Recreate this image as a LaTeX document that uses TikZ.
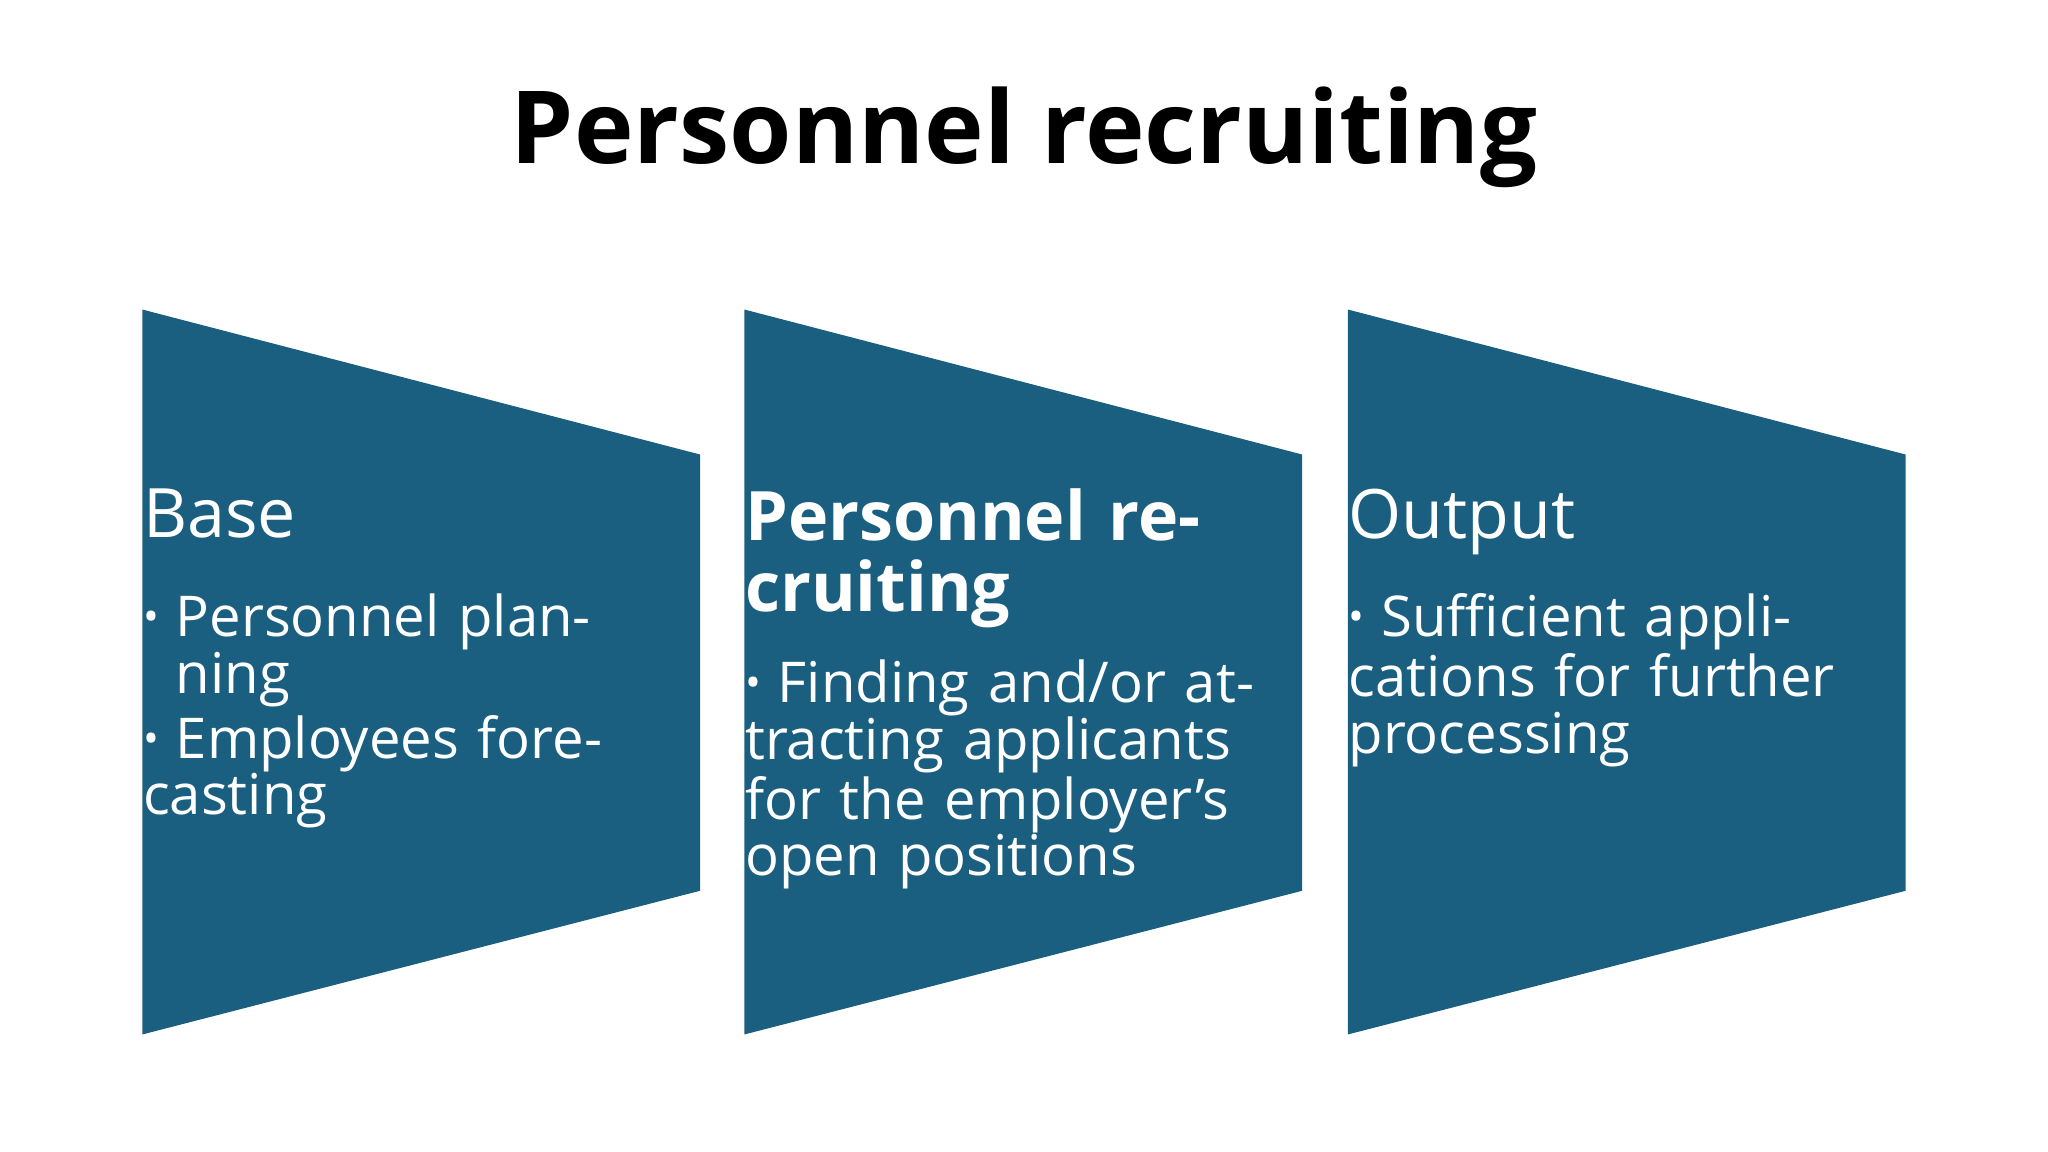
\documentclass[tikz,border=0pt]{standalone}
\usepackage{fontspec}
\setmainfont{Open Sans}
\usetikzlibrary{positioning}
\definecolor{stepblue}{HTML}{1A5F80}
\newcommand{\bul}[1]{\par\hangindent=9.3pt\hangafter=1\noindent\makebox[9.3pt][l]{\raisebox{1.5pt}{\fontsize{12}{12}\selectfont•}}#1}
\begin{document}
\begin{tikzpicture}[x=0.013061cm,y=-0.013061cm]

% Styles
\tikzset{
  stage/.style={fill=stepblue},
  head/.style={anchor=north west, inner sep=0pt, text=white, text width=152pt, align=left,
    font=\fontsize{19.4}{20}\selectfont},
  items/.style={anchor=north west, inner sep=0pt, text=white, text width=152pt, align=left,
    font=\fontsize{16}{16}\selectfont}
}

\useasboundingbox (0,0) rectangle (1568,882);

% Titel
\node (title) at (784,105) {\fontsize{28.7}{30}\selectfont\bfseries Personnel recruiting};

% Base
\fill[stage] (109,237) -- (536,348) -- (536,682) -- (109,792) -- cycle;
\node[head] (base_head) at (109,374) {Base};
\node[items] (base_items) at (109,444) {\bul{Personnel planning}\vspace{1.5pt}\bul{Employees forecasting}};

% Personnel recruiting
\fill[stage] (570,237) -- (997,348) -- (997,682) -- (570,792) -- cycle;
\node[head] (recr_head) at (570,374) {\bfseries Personnel recruiting};
\node[items] (recr_items) [below=5pt of recr_head.south west, anchor=north west] {\bul{Finding and/or attracting applicants for the employer’s open positions}};

% Output
\fill[stage] (1032,237) -- (1459,348) -- (1459,682) -- (1032,792) -- cycle;
\node[head] (out_head) at (1032,374) {Output};
\node[items] (out_items) at (1032,444) {\bul{Sufficient applications for further processing}};

\end{tikzpicture}
\end{document}
